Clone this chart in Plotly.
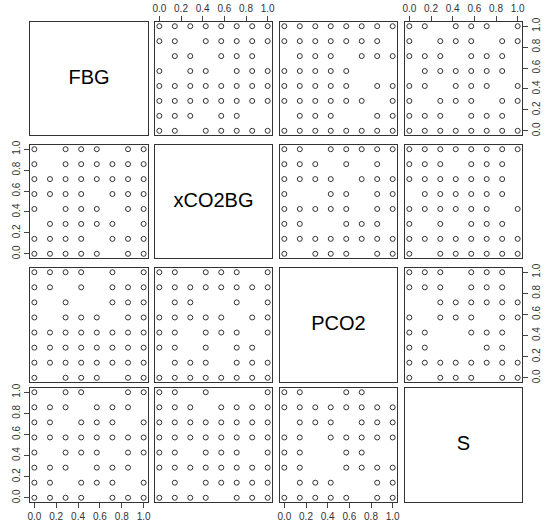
import plotly.graph_objects as go

names = ["FBG", "xCO2BG", "PCO2", "S"]
levels = [i / 7 for i in range(8)]

# occupancy grids for upper panels (row var on y, col var on x); rows listed from y=1 down to y=0
pair_grids = {
    (0, 1): ["11111111", "11011111", "01101110", "10110111", "11111111", "11111111", "11101100", "11011111"],
    (0, 2): ["11111111", "11111110", "01110111", "11111000", "11111011", "11111101", "01110011", "11111111"],
    (0, 3): ["11011101", "10111011", "11101110", "01111110", "11011101", "10111011", "11101110", "11111111"],
    (1, 2): ["11011111", "11101010", "11110111", "10011011", "11111011", "11001110", "11111111", "10111011"],
    (1, 3): ["11111111", "11101110", "11111110", "01111110", "11111101", "10101110", "11111111", "10111111"],
    (2, 3): ["11101110", "11101110", "00111111", "10111011", "11001110", "11000110", "11111111", "10111011"],
}

W, H = 550, 521
col_px = [(30, 148), (155, 272), (280, 397), (405, 522)]
row_px = [(22, 135), (145, 258), (268, 382), (388, 502)]

fig = go.Figure()
layout = {}
for i in range(4):
    for j in range(4):
        k = i * 4 + j + 1
        xa, ya = f"xaxis{k}", f"yaxis{k}"
        dx = [col_px[j][0] / W, col_px[j][1] / W]
        dy = [1 - row_px[i][1] / H, 1 - row_px[i][0] / H]
        common = dict(range=[-0.04, 1.04], showgrid=False, zeroline=False, mirror=True,
                      showline=True, linecolor="#333", linewidth=1.2, automargin=False,
                      tickvals=[0, 0.2, 0.4, 0.6, 0.8, 1.0],
                      ticktext=["0.0", "0.2", "0.4", "0.6", "0.8", "1.0"],
                      tickfont=dict(size=10, color="#333", family="Liberation Sans"))
        showx = (i == 0 and j % 2 == 1) or (i == 3 and j % 2 == 0)
        showy = (j == 3 and i % 2 == 0) or (j == 0 and i % 2 == 1)
        layout[xa] = dict(common, domain=dx, anchor=f"y{k}", side="top" if i == 0 else "bottom",
                          showticklabels=showx, ticks="outside" if showx else "", ticklen=5)
        layout[ya] = dict(common, domain=dy, anchor=f"x{k}", side="right" if j == 3 else "left",
                          showticklabels=showy, ticks="outside" if showy else "", ticklen=5,
                          tickangle=-90)
        if i == j:
            fig.add_trace(go.Scatter(x=[0.5], y=[0.5], mode="text", text=[names[i]],
                                     textfont=dict(size=20, color="black", family="Liberation Sans"),
                                     xaxis=f"x{k}", yaxis=f"y{k}", hoverinfo="skip"))
            continue
        a, b = (i, j) if i < j else (j, i)
        grid = pair_grids[(a, b)]
        px, py = [], []
        for r, row in enumerate(grid):
            for c, ch in enumerate(row):
                if ch == "1":
                    yv, xv = levels[7 - r], levels[c]  # y = var a, x = var b
                    if i < j:
                        px.append(xv); py.append(yv)
                    else:
                        px.append(yv); py.append(xv)
        fig.add_trace(go.Scatter(x=px, y=py, mode="markers",
                                 marker=dict(symbol="circle-open", size=5, color="#333",
                                             line=dict(width=1)),
                                 xaxis=f"x{k}", yaxis=f"y{k}"))

fig.update_layout(width=W, height=H, margin=dict(l=0, r=0, t=0, b=0),
                  plot_bgcolor="white", paper_bgcolor="white", showlegend=False, **layout)
fig.write_html("out.html", post_script="document.body.style.margin='0';",
               config={"displayModeBar": False})
